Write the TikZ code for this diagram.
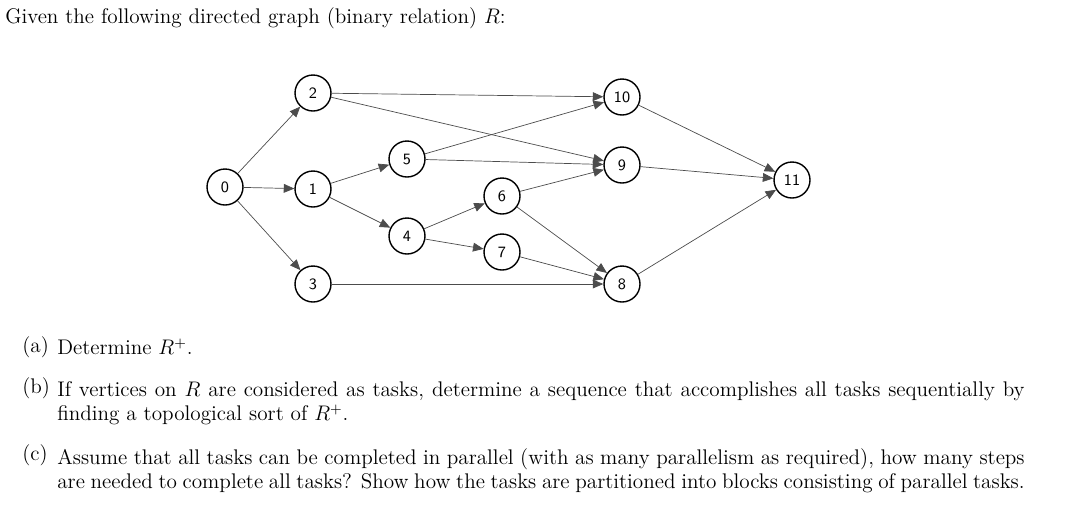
\documentclass[tikz,border=0pt]{standalone}
\usepackage{amssymb}
\usetikzlibrary{arrows.meta}
\begin{document}
\begin{tikzpicture}[x=0.02cm,y=-0.02cm,
  vertex/.style={circle,draw,thick,minimum size=0.72cm,inner sep=0pt,font=\sffamily\small},
  edge/.style={-{Triangle[length=6pt,width=5pt]},black!70},
  txt/.style={inner sep=0pt,font=\fontsize{12.05}{14}\selectfont},
  para/.style={txt,anchor=north west,text width=19.35cm,align=justify}]
  \useasboundingbox (0,0) rectangle (1070,512);
  \node[txt,anchor=west] (title) at (5,18)
    {Given the following directed graph (binary relation) $R$:};
  % vertices
  \node[vertex] (v0) at (225,187) {0};
  \node[vertex] (v2) at (313,93) {2};
  \node[vertex] (v1) at (313,189) {1};
  \node[vertex] (v3) at (313,284) {3};
  \node[vertex] (v5) at (407,159) {5};
  \node[vertex] (v4) at (407,236) {4};
  \node[vertex] (v6) at (502,196) {6};
  \node[vertex] (v7) at (502,252) {7};
  \node[vertex] (v10) at (622,97) {10};
  \node[vertex] (v9) at (622,165) {9};
  \node[vertex] (v8) at (622,284) {8};
  \node[vertex] (v11) at (792,180) {11};
  % edges
  \foreach \a/\b in {v0/v2,v0/v1,v0/v3,v2/v10,v2/v9,v1/v5,v1/v4,v5/v10,v5/v9,
                     v4/v6,v4/v7,v6/v9,v6/v8,v7/v8,v3/v8,v10/v11,v9/v11,v8/v11}
    \draw[edge] (\a) -- (\b);
  % questions
  \node[txt,anchor=west] (la) at (22,347) {(a)};
  \node[txt,anchor=west] (qa) at (57,347) {Determine $R^{+}$.};
  \node[txt,anchor=west] (lb) at (22,388) {(b)};
  \node[para] (qb) at (57,381) {If vertices on $R$ are considered as tasks, determine a sequence that accomplishes all tasks sequentially by finding a topological sort of $R^{+}$.};
  \node[txt,anchor=west] (lc) at (22,455) {(c)};
  \node[para] (qc) at (57,448) {Assume that all tasks can be completed in parallel (with as many parallelism as required), how many steps are needed to complete all tasks? Show how the tasks are partitioned into blocks consisting of parallel tasks.};
\end{tikzpicture}
\end{document}
